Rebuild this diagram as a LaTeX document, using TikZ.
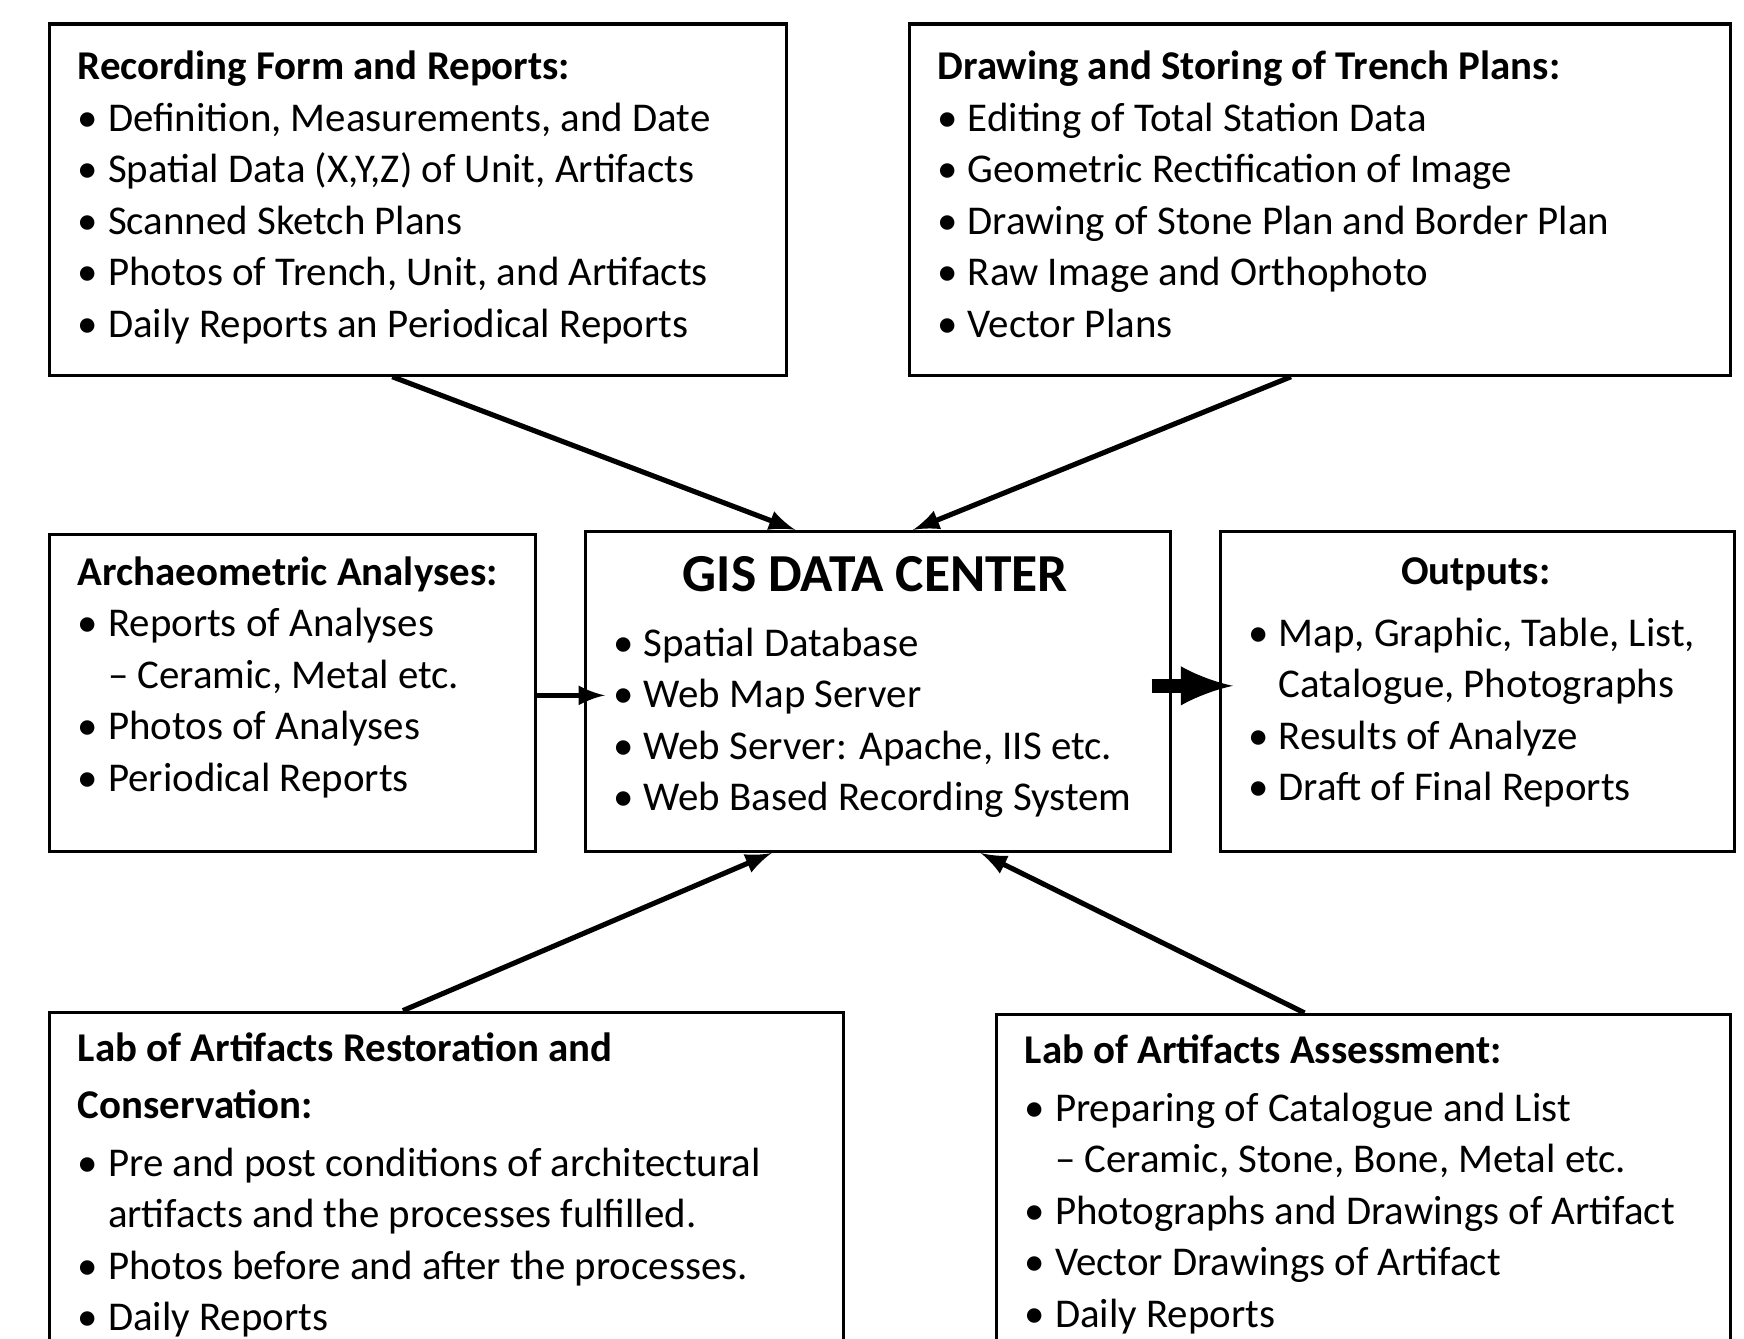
\documentclass[tikz,border=0pt]{standalone}
\usepackage{fontspec}
\setmainfont{Carlito}
\usetikzlibrary{positioning,calc}
\newcommand{\itm}{\makebox[0.27cm][l]{\textbullet}}
\newcommand{\sub}{\hspace*{0.27cm}}
\begin{document}
\begin{tikzpicture}[x=0.01cm, y=-0.01cm,
    box/.style={rectangle, draw, line width=0.8pt, anchor=north west, inner sep=0pt},
    txt/.style={anchor=north west, align=left, inner sep=0pt, font=\fontsize{10.4}{13.1}\selectfont},
    arr/.style={-latex, line width=1.3pt},
    bigarr/.style={-latex, line width=3.5pt}
]
    \useasboundingbox (0,0) rectangle (1560,1197);
    % boxes
    \node[box, minimum width=6.59cm, minimum height=3.14cm] (rec) at (43,20) {};
    \node[box, minimum width=7.34cm, minimum height=3.14cm] (draw) at (812,20) {};
    \node[box, minimum width=4.34cm, minimum height=2.83cm] (arch) at (43,477) {};
    \node[box, minimum width=5.23cm, minimum height=2.86cm] (gis) at (522,474) {};
    \node[box, minimum width=4.60cm, minimum height=2.86cm] (out) at (1090,474) {};
    \node[box, minimum width=7.10cm, minimum height=3.40cm] (lab) at (43,904) {};
    \node[box, minimum width=6.56cm, minimum height=3.40cm] (assess) at (890,906) {};

    % texts
    \node[txt] (rect) at (69,45) {\textbf{Recording Form and Reports:}\\
        \itm Definition, Measurements, and Date\\
        \itm Spatial Data (X,Y,Z) of Unit, Artifacts\\
        \itm Scanned Sketch Plans\\
        \itm Photos of Trench, Unit, and Artifacts\\
        \itm Daily Reports an Periodical Reports};
    \node[txt] (drawt) at (838,45) {\textbf{Drawing and Storing of Trench Plans:}\\
        \itm Editing of Total Station Data\\
        \itm Geometric Rectification of Image\\
        \itm Drawing of Stone Plan and Border Plan\\
        \itm Raw Image and Orthophoto\\
        \itm Vector Plans};
    \node[txt] (archt) at (69,497) {\textbf{Archaeometric Analyses:}\\
        \itm Reports of Analyses\\
        \sub -- Ceramic, Metal etc.\\
        \itm Photos of Analyses\\
        \itm Periodical Reports};
    \node[anchor=north, inner sep=0pt, font=\fontsize{13.6}{16}\bfseries] (gist) at (783,497) {GIS DATA CENTER};
    \node[txt, anchor=north west] (gisl) at (548,561) {\itm Spatial Database\\
        \itm Web Map Server\\
        \itm Web Server: Apache, IIS etc.\\
        \itm Web Based Recording System};
    \node[anchor=north, inner sep=0pt, font=\fontsize{10.4}{13.1}\bfseries] (outh) at (1320,498) {Outputs:};
    \node[txt] (outt) at (1116,552) {\itm Map, Graphic, Table, List,\\
        \sub Catalogue, Photographs\\
        \itm Results of Analyze\\
        \itm Draft of Final Reports};
    \node[txt] (labt) at (69,923) {\textbf{Lab of Artifacts Restoration and}\\[1.5pt]
        \textbf{Conservation:}\\[1.5pt]
        \itm Pre and post conditions of architectural\\
        \sub artifacts and the processes fulfilled.\\
        \itm Photos before and after the processes.\\
        \itm Daily Reports};
    \node[txt] (assesst) at (916,925) {\textbf{Lab of Artifacts Assessment:}\\[1.5pt]
        \itm Preparing of Catalogue and List\\
        \sub -- Ceramic, Stone, Bone, Metal etc.\\
        \itm Photographs and Drawings of Artifact\\
        \itm Vector Drawings of Artifact\\
        \itm Daily Reports};

    % connectors
    \draw[arr] ($(rec.south west)!0.465!(rec.south east)$) -- ($(gis.north west)!0.36!(gis.north east)$);
    \draw[arr] ($(draw.south west)!0.465!(draw.south east)$) -- ($(gis.north west)!0.56!(gis.north east)$);
    \draw[arr] (arch.east |- gisl.north) ++(0,61) coordinate (a1) -- ++(61,0) coordinate (a2);
    \draw[bigarr] ($(gis.east)+(-18,-5)$) -- ($(out.west)+(13,-5)$);
    \draw[arr] ($(lab.north west)!0.445!(lab.north east)$) -- ($(gis.south west)!0.32!(gis.south east)$);
    \draw[arr] ($(assess.north west)!0.42!(assess.north east)$) -- ($(gis.south west)!0.675!(gis.south east)$);
\end{tikzpicture}
\end{document}
